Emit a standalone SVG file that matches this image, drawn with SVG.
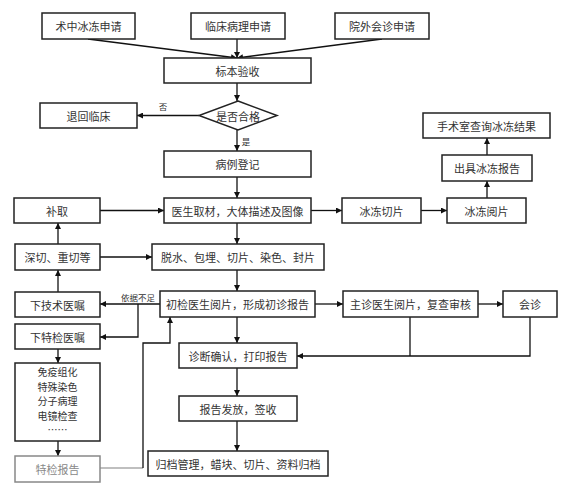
<svg xmlns="http://www.w3.org/2000/svg" width="564" height="491" viewBox="0 0 564 491">
<defs>
<marker id="ah" viewBox="0 0 10 10" refX="10" refY="5" markerWidth="6" markerHeight="6" markerUnits="userSpaceOnUse" orient="auto">
<path d="M0,0 L10,5 L0,10 Z" fill="#111"/>
</marker>
<style>
.b{fill:#fff;stroke:#222;stroke-width:1.5}
.t{font-family:"Noto Sans CJK SC","Noto Sans",sans-serif;font-size:11px;fill:#333;text-anchor:middle;dominant-baseline:central}
.m{font-size:10px}
.s{font-family:"Noto Sans CJK SC","Noto Sans",sans-serif;font-size:8.5px;fill:#333;text-anchor:middle;dominant-baseline:central}
.c{fill:none;stroke:#111;stroke-width:1.3}
.a{marker-end:url(#ah)}
.f .b{stroke:#888}
.f .t{fill:#888}
</style>
</defs>
<rect width="564" height="491" fill="#fff"/>
<g id="connectors">
<path class="c a" d="M88,39 L237,58"/>
<path class="c a" d="M237,39 L237,58"/>
<path class="c a" d="M382,39 L237,58"/>
<path class="c a" d="M237,83 L237,101"/>
<path class="c a" d="M199,115.5 L137,115.5"/>
<path class="c a" d="M237,130 L237,151"/>
<path class="c a" d="M237,177 L237,198"/>
<path class="c a" d="M100,210.5 L164,210.5"/>
<path class="c a" d="M311,210.5 L342,210.5"/>
<path class="c a" d="M421,210.5 L447,210.5"/>
<path class="c a" d="M487,198 L487,181"/>
<path class="c a" d="M487,155 L487,138"/>
<path class="c a" d="M237,223 L237,244"/>
<path class="c a" d="M100,257 L152,257"/>
<path class="c a" d="M237,270 L237,291"/>
<path class="c a" d="M315,304 L343,304"/>
<path class="c a" d="M478,304 L503,304"/>
<path class="c a" d="M237,317 L237,343"/>
<path class="c" d="M410,317 L410,356"/>
<path class="c a" d="M530,317 L530,356 L297,356"/>
<path class="c a" d="M237,368 L237,396"/>
<path class="c a" d="M237,421 L237,451"/>
<path class="c a" d="M58,244 L58,223"/>
<path class="c a" d="M58,292 L58,270"/>
<path class="c a" d="M160,304 L100,304"/>
<path class="c a" d="M138,304 L138,337 L100,337"/>
<path class="c a" d="M58,349 L58,363"/>
<path class="c a" d="M58,441 L58,456"/>
<path class="c" d="M100,468 L143,468" style="stroke:#aaa"/>
<path class="c a" d="M143,468 L143,343 L170,343 L170,317"/>
</g>
<g id="n1"><rect class="b" x="42" y="13" width="93" height="26"/><text class="t" x="88.5" y="26">术中冰冻申请</text></g>
<g id="n2"><rect class="b" x="191" y="13" width="94" height="26"/><text class="t" x="238" y="26">临床病理申请</text></g>
<g id="n3"><rect class="b" x="335" y="13" width="94" height="26"/><text class="t" x="382" y="26">院外会诊申请</text></g>
<g id="n4"><rect class="b" x="164" y="58" width="147" height="25"/><text class="t" x="237.5" y="70.5">标本验收</text></g>
<g id="n5"><polygon class="b" points="238,101 277,115.5 238,130 199,115.5"/><text class="t" x="238" y="115.5">是否合格</text></g>
<g id="n6"><rect class="b" x="40" y="103" width="97" height="25"/><text class="t" x="88.5" y="115.5">退回临床</text></g>
<g id="n7"><rect class="b" x="164" y="151" width="147" height="26"/><text class="t" x="237.5" y="164">病例登记</text></g>
<g id="n8"><rect class="b" x="164" y="198" width="147" height="25"/><text class="t" x="237.5" y="210.5">医生取材，大体描述及图像</text></g>
<g id="n9"><rect class="b" x="342" y="198" width="79" height="25"/><text class="t" x="381.5" y="210.5">冰冻切片</text></g>
<g id="n10"><rect class="b" x="447" y="198" width="79" height="25"/><text class="t" x="486.5" y="210.5">冰冻阅片</text></g>
<g id="n11"><rect class="b" x="442" y="155" width="90" height="26"/><text class="t" x="487" y="168">出具冰冻报告</text></g>
<g id="n12"><rect class="b" x="423" y="113" width="127" height="25"/><text class="t" x="486.5" y="125.5">手术室查询冰冻结果</text></g>
<g id="n13"><rect class="b" x="14" y="198" width="86" height="25"/><text class="t" x="57" y="210.5">补取</text></g>
<g id="n14"><rect class="b" x="15" y="244" width="85" height="26"/><text class="t" x="57.5" y="257">深切、重切等</text></g>
<g id="n15"><rect class="b" x="152" y="244" width="172" height="26"/><text class="t" x="238" y="257">脱水、包埋、切片、染色、封片</text></g>
<g id="n16"><rect class="b" x="15" y="292" width="85" height="25"/><text class="t" x="57.5" y="304.5">下技术医嘱</text></g>
<g id="n17"><rect class="b" x="160" y="291" width="155" height="26"/><text class="t" x="237.5" y="304">初检医生阅片，形成初诊报告</text></g>
<g id="n18"><rect class="b" x="343" y="291" width="135" height="26"/><text class="t" x="410.5" y="304">主诊医生阅片，复查审核</text></g>
<g id="n19"><rect class="b" x="503" y="291" width="54" height="26"/><text class="t" x="530" y="304">会诊</text></g>
<g id="n20"><rect class="b" x="15" y="324" width="85" height="25"/><text class="t" x="57.5" y="336.5">下特检医嘱</text></g>
<g id="n21"><rect class="b" x="179" y="343" width="118" height="25"/><text class="t" x="238" y="355.5">诊断确认，打印报告</text></g>
<g id="n22"><rect class="b" x="15" y="363" width="85" height="78"/>
<text class="t m" x="57.5" y="371.5">免疫组化</text><text class="t m" x="57.5" y="386">特殊染色</text><text class="t m" x="57.5" y="400.5">分子病理</text><text class="t m" x="57.5" y="415">电镜检查</text><text class="t m" x="57.5" y="429.5">……</text></g>
<g id="n23"><rect class="b" x="179" y="396" width="118" height="25"/><text class="t" x="238" y="408.5">报告发放，签收</text></g>
<g id="n24"><rect class="b" x="148" y="451" width="180" height="25"/><text class="t" x="238" y="463.5">归档管理，蜡块、切片、资料归档</text></g>
<g id="n25" class="f"><rect class="b" x="15" y="456" width="85" height="26"/><text class="t" x="57.5" y="469">特检报告</text></g>
<g id="labels">
<text class="s" x="163" y="106">否</text>
<text class="s" x="246" y="141">是</text>
<text class="s" x="138" y="297">依据不足</text>
</g>
</svg>
